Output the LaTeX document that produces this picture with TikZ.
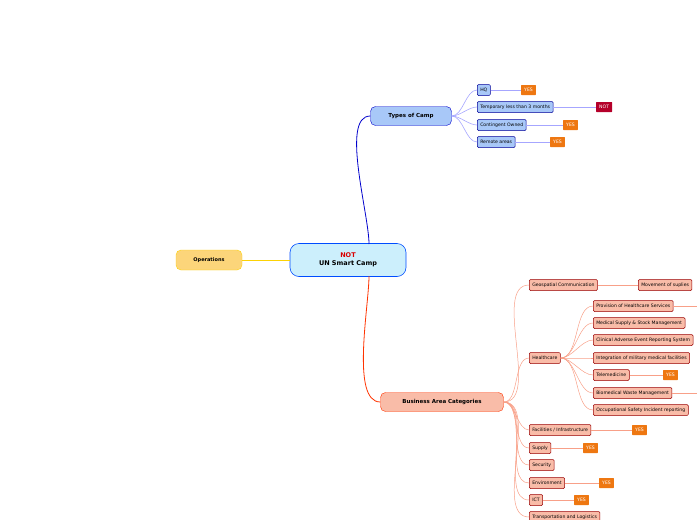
\documentclass[tikz,border=0pt]{standalone}
\usepackage{fontspec}
\setmainfont{DejaVu Sans}
\begin{document}
\begin{tikzpicture}[x=1pt,y=-1pt,
 box/.style={draw=#1!60!black,rounded corners=1.2pt,line width=0.5pt,font=\fontsize{4.6}{5}\selectfont,inner xsep=3pt,inner ysep=0pt,minimum height=11pt,anchor=west},
 bl/.style={box=blue,fill=bfill},
 rd/.style={box=red,fill=rfill},
 yes/.style={fill=yorange,text=white,font=\fontsize{4.6}{5}\selectfont,inner xsep=3pt,minimum height=10pt,inner ysep=0pt,rounded corners=0.5pt,anchor=west},
 bc/.style={draw=blue!35,line width=0.6pt},
 rc/.style={draw=rline,line width=0.5pt},
 cv/.style={out=0,in=180,looseness=0.8}]
\definecolor{bfill}{HTML}{A8C8F8}
\definecolor{rfill}{HTML}{F9BCA8}
\definecolor{rline}{HTML}{F8A088}
\definecolor{yorange}{HTML}{EE7711}
\definecolor{notred}{HTML}{B5002A}
\useasboundingbox (0,0) rectangle (697,520);
\clip (0,0) rectangle (697,520);
% main
\node[draw=blue!70!cyan,fill=cyan!20,rounded corners=9pt,line width=0.6pt,minimum width=116pt,minimum height=33pt,align=center,font=\fontsize{6.5}{8}\selectfont\bfseries] (c) at (348,260) {\textcolor{red!85!black}{NOT}\\UN Smart Camp};
\node[draw=yellow!70!orange,fill=yellow!40!orange!50,rounded corners=5pt,minimum width=66pt,minimum height=20pt,font=\fontsize{5}{6}\selectfont\bfseries] (op) at (209,260) {Operations};
\node[draw=blue!80!black,fill=bfill,rounded corners=5pt,minimum width=81pt,minimum height=19pt,font=\fontsize{5.5}{6}\selectfont\bfseries] (t) at (411,116) {Types of Camp};
\node[draw=red!60!orange,fill=rfill,rounded corners=5pt,minimum width=123pt,minimum height=19pt,font=\fontsize{5.5}{6}\selectfont\bfseries] (b) at (442,402) {Business Area Categories};
\coordinate (ct) at (369,244);
\coordinate (cb) at (369,276);
\draw[yellow!70!orange,line width=0.8pt] (op) -- (c);
\draw[blue!80!black,line width=0.8pt] (ct) to[out=90,in=180,looseness=0.6] (t.west);
\draw[red!60!orange,line width=0.8pt] (cb) to[out=-90,in=180,looseness=0.6] (b.west);
% types
\node[bl] (hq) at (477,90) {HQ};
\node[bl] (tm) at (477,107) {Temporary less than 3 months};
\node[bl] (co) at (477,125) {Contingent Owned};
\node[bl] (ra) at (477,142) {Remote areas};
\node[yes] (y1) at (521,90) {YES};
\node[yes,fill=notred] (n1) at (596,107) {NOT};
\node[yes] (y2) at (563,125) {YES};
\node[yes] (y3) at (550,142) {YES};
\foreach \n in {hq,tm,co,ra} \draw[bc] (t.east) to[cv] (\n.west);
\draw[bc] (hq) -- (y1); \draw[bc] (tm) -- (n1); \draw[bc] (co) -- (y2); \draw[bc] (ra) -- (y3);
% business
\node[rd] (geo) at (529,285) {Geospatial Communication};
\node[rd] (mov) at (638,285) {Movement of suplies};
\node[rd] (hc) at (529,358) {Healthcare};
\node[rd] (fac) at (529,430) {Facilities / Infrastructure};
\node[rd] (sup) at (529,448) {Supply};
\node[rd] (sec) at (529,465) {Security};
\node[rd] (env) at (529,483) {Environment};
\node[rd] (ict) at (529,500) {ICT};
\node[rd] (tl) at (529,517) {Transportation and Logistics};
\foreach \n in {geo,hc,fac,sup,sec,env,ict,tl} \draw[rc] (b.east) to[cv] (\n.west);
\draw[rc] (geo) -- (mov);
\node[yes] (y4) at (632,430) {YES};
\node[yes] (y5) at (583,448) {YES};
\node[yes] (y6) at (599,483) {YES};
\node[yes] (y7) at (574,500) {YES};
\draw[rc] (fac) -- (y4); \draw[rc] (sup) -- (y5); \draw[rc] (env) -- (y6); \draw[rc] (ict) -- (y7);
% healthcare children
\node[rd] (h1) at (593,306) {Provision of Healthcare Services};
\node[rd] (h2) at (593,323) {Medical Supply \& Stock Management};
\node[rd] (h3) at (593,340) {Clinical Adverse Event Reporting System};
\node[rd] (h4) at (593,358) {Integration of military medical facilities};
\node[rd] (h5) at (593,375) {Telemedicine};
\node[rd] (h6) at (593,393) {Biomedical Waste Management};
\node[rd] (h7) at (593,410) {Occupational Safety Incident reporting};
\foreach \n in {h1,h2,h3,h4,h5,h6,h7} \draw[rc] (hc.east) to[cv] (\n.west);
\node[yes] (y8) at (663,375) {YES};
\draw[rc] (h5) -- (y8);
\coordinate (e1) at (700,306); \coordinate (e6) at (700,393);
\draw[rc] (h1) -- (e1); \draw[rc] (h6) -- (e6);
\end{tikzpicture}
\end{document}
